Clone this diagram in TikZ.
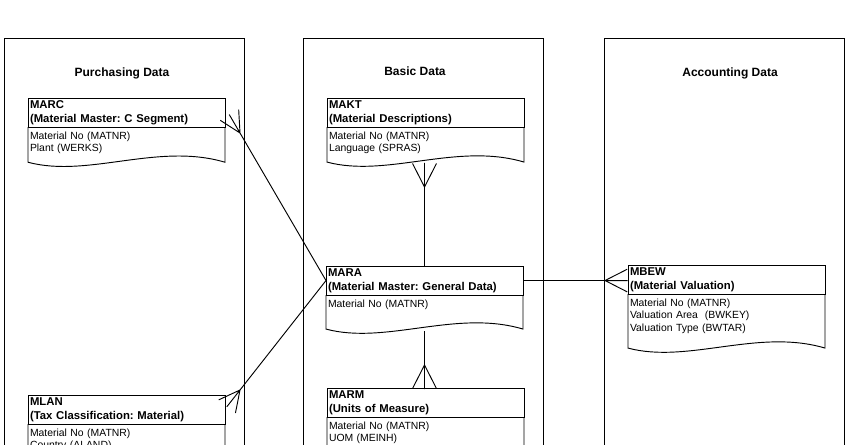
\documentclass[tikz,border=0pt]{standalone}
\usepackage{fontspec}
\setmainfont{Liberation Sans}
\usetikzlibrary{positioning, calc}
\frenchspacing

\newcommand{\crowfoot}[3][18pt]{%
  \draw (#2) -- ($(#2)!-#1!(#3)$)
        (#2) -- ($(#2)!-1.1*#1!27:(#3)$)
        (#2) -- ($(#2)!-1.1*#1!-27:(#3)$);}

\begin{document}
\begin{tikzpicture}[x=0.75pt, y=-0.75pt, line width=0.7pt,
    title/.style={anchor=base, font=\bfseries\fontsize{9}{11}\selectfont},
    hdr/.style={draw, anchor=north west, outer sep=0pt, text width=144.75pt, inner xsep=1.5pt, inner ysep=2pt,
        align=left, font=\bfseries\fontsize{8.5}{10.2}\selectfont},
    fld/.style={anchor=north west, outer sep=0pt, text width=144.75pt, inner xsep=1.5pt, inner ysep=3.5pt,
        align=left, font=\fontsize{7.8}{9.4}\selectfont}]
    \useasboundingbox (0,0) rectangle (848,445);
    \clip (0,0) rectangle (848,445);

    % panels
    \foreach \x in {4,303,604}
        \draw (\x,450) |- (\x+240,38) -- (\x+240,450);
    \node[title] (t-purch) at (122,77) {Purchasing Data};
    \node[title] (t-basic) at (415,76) {Basic Data};
    \node[title] (t-acct) at (730,77) {Accounting Data};

    % tables
    \node[hdr] (marc) at (28,98) {MARC\\(Material Master: C Segment)};
    \node[fld] (marc-f) at (marc.south west) {Material No (MATNR)\\Plant (WERKS)};
    \node[hdr] (mlan) at (28,395) {MLAN\\(Tax Classification: Material)};
    \node[fld] (mlan-f) at (mlan.south west) {Material No (MATNR)\\Country (ALAND)};
    \node[hdr] (makt) at (327,98) {MAKT\\(Material Descriptions)};
    \node[fld] (makt-f) at (makt.south west) {Material No (MATNR)\\Language (SPRAS)};
    \node[hdr] (mara) at (326,266) {MARA\\(Material Master: General Data)};
    \node[fld] (mara-f) at (mara.south west) {Material No (MATNR)};
    \node[hdr] (marm) at (327,388) {MARM\\(Units of Measure)};
    \node[fld] (marm-f) at (marm.south west) {Material No (MATNR)\\UOM (MEINH)};
    \node[hdr] (mbew) at (628,265) {MBEW\\(Material Valuation)};
    \node[fld] (mbew-f) at (mbew.south west) {Material No (MATNR)\\Valuation Area\ \ (BWKEY)\\Valuation Type (BWTAR)};

    \foreach \t/\h in {marc/35, makt/35, mara/34, mbew/54, mlan/60, marm/60}
        \draw (\t.south west) -- ++(0,\h) .. controls +(60,16) and +(-67,-20) .. ++(197,0) -- (\t.south east);

    % relations
    \coordinate (marc-foot) at (240,133);
    \coordinate (mlan-foot) at (240,390);
    \coordinate (makt-foot) at (mara.north |- 0,187);
    \coordinate (mara-bot) at (mara.north |- 0,331);
    \coordinate (marm-foot) at (mara.north |- 0,365);
    \coordinate (mbew-foot) at (mara.east -| 605,0);

    \draw (mara.west) -- (marc-foot);
    \draw (mara.west) -- (mlan-foot);
    \draw (mara.north) -- (makt-foot);
    \draw (mara-bot) -- (marm-foot);
    \draw (mara.east) -- (mbew-foot);
    \crowfoot[16pt]{marc-foot}{mara.west}
    \crowfoot[16pt]{mlan-foot}{mara.west}
    \crowfoot{makt-foot}{mara.north}
    \crowfoot{marm-foot}{mara-bot}
    \crowfoot[17pt]{mbew-foot}{mara.east}
\end{tikzpicture}
\end{document}
